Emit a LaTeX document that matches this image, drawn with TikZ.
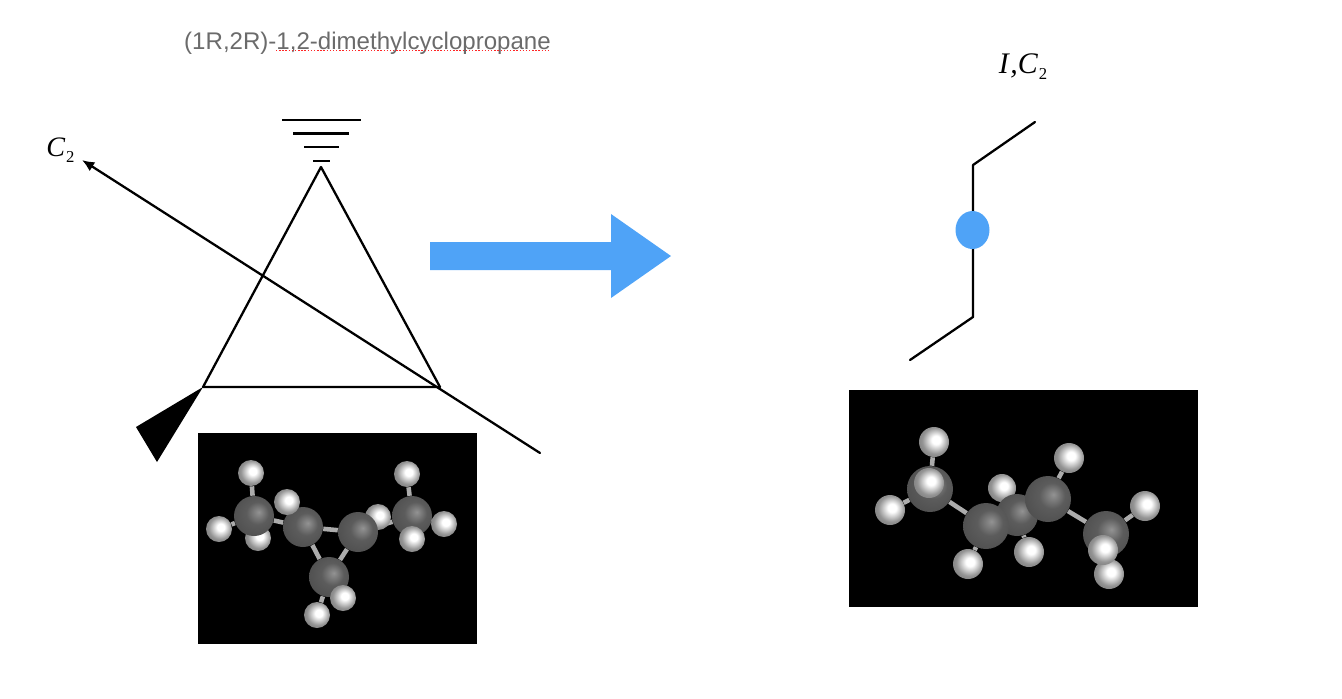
\documentclass[tikz,border=0pt]{standalone}
\usepackage{fontspec}
\setmainfont{Liberation Serif}
\newfontfamily\titlefont{Liberation Sans}
\usetikzlibrary{arrows.meta,backgrounds}
\definecolor{arrowblue}{HTML}{4FA3F7}
\definecolor{titlegray}{HTML}{6B6B6B}
\pgfdeclareradialshading{catom}{\pgfpoint{6bp}{5bp}}{color(0bp)=(gray!85); color(14bp)=(gray!72!black); color(30bp)=(gray!62!black); color(42bp)=(gray!50!black); color(50bp)=(gray!38!black)}
\pgfdeclareradialshading{hatom}{\pgfpoint{4bp}{4bp}}{color(0bp)=(white); color(7bp)=(white); color(22bp)=(gray!85); color(38bp)=(gray!85!black); color(50bp)=(gray!50!black)}
\tikzset{
  skel/.style={line width=1.3pt, line cap=round, line join=round},
  ground/.style={line width=1.2pt},
  bond/.style={line width=2.6pt, gray!65},
  catomleft/.style={circle, inner sep=0pt, minimum size=0.8cm, shading=catom},
  hatomleft/.style={circle, inner sep=0pt, minimum size=0.52cm, shading=hatom},
  catomright/.style={circle, inner sep=0pt, minimum size=0.92cm, shading=catom},
  hatomright/.style={circle, inner sep=0pt, minimum size=0.6cm, shading=hatom},
  formula/.style={font=\itshape\fontsize{16}{18}\selectfont},
}
\newcommand{\subtwo}{\kern0.6pt\raisebox{-0.45ex}{\normalfont\fontsize{9.5}{10}\selectfont 2}}
\begin{document}
\begin{tikzpicture}[x=0.02cm, y=-0.02cm]
  \useasboundingbox (0,0) rectangle (1342,698);
  % title
  \node[font=\titlefont\fontsize{13.7}{16}\selectfont, text=titlegray] (title) at (367.5,43) {(1R,2R)-1,2-dimethylcyclopropane};
  \coordinate (ulstart) at (276,50.5);
  \coordinate (ulend) at (550,50.5);
  \draw[red!85, densely dotted, line width=0.8pt] (ulstart) -- (ulend);
  % left structure
  \coordinate (apex) at (321,167);
  \coordinate (cleft) at (203,387);
  \coordinate (cright) at (440,387);
  \coordinate (wedgea) at (136,427);
  \coordinate (wedgeb) at (157,462);
  \coordinate (axisend) at (540,453);
  \coordinate (axistip) at (82,160);
  \draw[skel] (apex) -- (cleft) -- (cright) -- cycle;
  \fill (cleft) -- (wedgea) -- (wedgeb) -- cycle;
  \draw[skel, -{Latex[length=7pt,width=6pt]}] (axisend) -- (axistip);
  \foreach \yy/\xa/\xb in {120/282/361, 133.5/293/349, 147/304/339, 161/313/330}
    \draw[ground] (\xa,\yy) -- (\xb,\yy);
  \node[formula] (axislabel) at (60.5,150) {C\subtwo};
  % big arrow
  \fill[arrowblue] (430,242) -- (611,242) -- (611,214) -- (671,256) -- (611,298) -- (611,270) -- (430,270) -- cycle;
  % right structure
  \node[formula, font=\itshape\fontsize{17}{20}\selectfont] (pointgroup) at (1023,67) {I\kern1pt,C\subtwo};
  \coordinate (ra) at (1035,122);
  \coordinate (rb) at (973,165);
  \coordinate (rc) at (973,317);
  \coordinate (rd) at (910,360);
  \draw[skel] (ra) -- (rb) -- (rc) -- (rd);
  \fill[arrowblue] (972.5,230) ellipse (17 and 19);
  % left model, back to front
  \foreach \nm/\px/\py in {h3/258/538, h5/378/517}
    \node[hatomleft] (\nm) at (\px,\py) {};
  \foreach \nm/\px/\py in {c1/254/516, c2/303/527, c3/358/532, c4/412/516, c5/329/577}
    \node[catomleft] (\nm) at (\px,\py) {};
  \foreach \nm/\px/\py in {h1/251/473, h2/219/529, h4/287/502, h6/407/474, h7/444/524, h8/412/539, h9/343/598, h10/317/615}
    \node[hatomleft] (\nm) at (\px,\py) {};
  % right model, back to front
  \foreach \nm/\px/\py in {r5/1002/488}
    \node[hatomright, minimum size=0.56cm] (\nm) at (\px,\py) {};
  \node[catomright, minimum size=0.84cm] (s3) at (1017,515) {};
  \foreach \nm/\px/\py in {s1/930/489, s2/986/526, s4/1048/499, s5/1106/534}
    \node[catomright] (\nm) at (\px,\py) {};
  \foreach \nm/\px/\py in {r1/934/442, r2/890/510, r3/929/483, r4/968/564, r6/1029/552, r7/1069/458, r8/1145/506, r10/1109/574, r9/1103/550}
    \node[hatomright] (\nm) at (\px,\py) {};
  % black panels and bonds go behind the atoms
  \begin{scope}[on background layer]
    \fill[black] (198,433) rectangle (477,644);
    \fill[black] (849,390) rectangle (1198,607);
    \foreach \aa/\bb in {c1/h1, c1/h2, c1/h3, c1/c2, c2/h4, c2/c3, c2/c5, c3/c5, c3/h5, c3/c4, c4/h6, c4/h7, c4/h8, c5/h9, c5/h10,
      s1/r1, s1/r2, s1/s2, s2/r4, s2/s4, s3/r5, s3/r6, s3/s4, s4/r7, s4/s5, s5/r8, s5/r9, s5/r10}
      \draw[bond] (\aa) -- (\bb);
  \end{scope}
\end{tikzpicture}
\end{document}
